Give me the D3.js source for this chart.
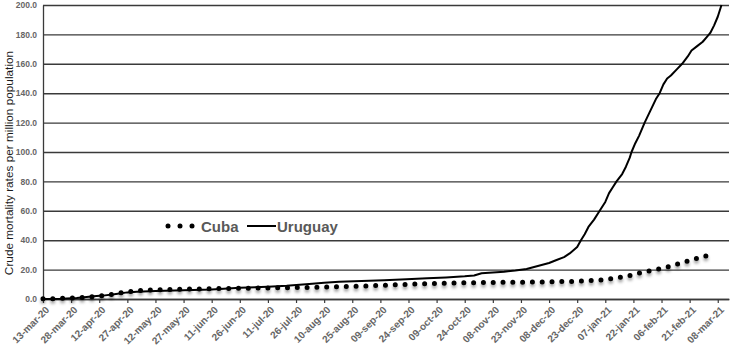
<!DOCTYPE html>
<html>
<head>
<meta charset="utf-8">
<script src="https://cdn.jsdelivr.net/npm/d3@7"></script>
<style>
  body { margin: 0; background: #fff; }
  svg { display: block; font-family: 'Liberation Sans', Arial, sans-serif; }
</style>
</head>
<body>
<script>
const width = 733
const height = 353

// days counted from 13-mar-20
const startDate = new Date(2020, 2, 13)
const tickDays = d3.range(0, 361, 15)
const yTicks = [0, 20, 40, 60, 80, 100, 120, 140, 160, 180, 200]

const cubaDays = [0, 5, 10, 15, 20, 25, 30, 35, 40, 45, 50, 55, 60, 70, 85, 100, 115, 130, 145, 160, 175, 190, 205, 220, 235, 250, 265, 280, 290, 300, 306, 312, 317, 322, 327, 332, 338, 342, 347, 352, 357]
const cubaVals = [0.1, 0.2, 0.4, 0.7, 1.0, 1.4, 2.0, 2.8, 3.9, 4.8, 5.5, 6.0, 6.3, 6.6, 6.9, 7.2, 7.5, 7.7, 7.9, 8.4, 9.0, 9.8, 10.5, 10.9, 11.2, 11.4, 11.6, 11.9, 12.3, 13.2, 14.4, 15.6, 17.3, 18.7, 20.0, 21.3, 23.6, 25.0, 27.0, 28.6, 30.8]

const uruDays = [0, 10, 18, 22, 27, 32, 38, 45, 50, 60, 75, 90, 105, 120, 130, 142, 150, 158, 170, 182, 194, 205, 215, 225, 230, 234, 240, 246, 252, 258, 264, 270, 274, 278, 281, 285, 287, 289, 291, 294, 297, 300, 302, 304, 306, 309, 311, 313, 314, 316, 318, 321, 324, 327, 329, 331, 333, 335, 338, 341, 344, 346, 349, 352, 354, 356, 358, 360, 362]
const uruVals = [0.0, 0.2, 0.6, 1.2, 1.8, 2.3, 3.2, 4.5, 5.0, 5.5, 5.9, 6.4, 7.6, 8.4, 9.0, 10.2, 11.0, 11.8, 12.3, 12.8, 13.5, 14.1, 14.7, 15.4, 16.0, 17.5, 18.0, 18.6, 19.4, 20.4, 22.5, 24.5, 26.5, 28.5, 31.0, 35.4, 40.0, 44.0, 49.0, 54.0, 60.0, 66.0, 72.0, 76.0, 80.0, 85.0, 90.0, 96.0, 100.0, 106.0, 111.0, 120.0, 128.0, 136.0, 140.0, 146.0, 150.0, 152.0, 156.0, 160.0, 165.0, 169.0, 172.0, 175.0, 178.0, 181.0, 186.0, 192.0, 200.0]

const day = n => d3.timeDay.offset(startDate, n)
const fmt = d3.timeFormat('%d-%b-%y')

const x = d3.scaleTime().domain([startDate, day(366)]).range([43, 729])
const y = d3.scaleLinear().domain([0, 200]).range([299, 5])

const svg = d3.select('body').append('svg').attr('width', width).attr('height', height)

const defs = svg.append('defs')
const shadow = defs.append('filter').attr('id', 'shadow')
  .attr('x', '-10%').attr('y', '-50%').attr('width', '120%').attr('height', '200%')
shadow.append('feDropShadow')
  .attr('dx', 0).attr('dy', 2.5).attr('stdDeviation', 1.6)
  .attr('flood-color', '#000').attr('flood-opacity', 0.4)

// gridlines + y labels
const yAxis = svg.append('g')
  .attr('transform', `translate(${x.range()[0]},0)`)
  .call(d3.axisLeft(y)
    .tickValues(yTicks)
    .tickSize(-(x.range()[1] - x.range()[0]))
    .tickSizeOuter(0)
    .tickPadding(6)
    .tickFormat(d3.format('.1f')))
yAxis.select('.domain').attr('stroke', '#3a3a3a').attr('stroke-width', 1.3)
yAxis.selectAll('.tick line').attr('stroke', '#3a3a3a').attr('stroke-width', 1.4)
yAxis.selectAll('.tick text')
  .attr('fill', '#666')
  .style('font-size', '8.5px')
  .style('font-weight', 'bold')

// x axis
const xAxis = svg.append('g')
  .attr('transform', `translate(0,${y(0)})`)
  .call(d3.axisBottom(x)
    .tickValues(tickDays.map(day))
    .tickSize(4)
    .tickSizeOuter(0)
    .tickFormat(d => fmt(d).toLowerCase()))
xAxis.select('.domain').attr('stroke', '#3a3a3a').attr('stroke-width', 1.6)
xAxis.selectAll('.tick line').attr('stroke', '#3a3a3a').attr('stroke-width', 1.2)
xAxis.selectAll('.tick text')
  .attr('x', 0)
  .attr('y', 0)
  .attr('dy', '0.35em')
  .attr('transform', 'translate(4,9) rotate(-45)')
  .style('text-anchor', 'end')
  .attr('fill', '#666')
  .style('font-size', '10px')
  .style('font-weight', 'bold')

// y title
svg.append('text')
  .attr('transform', `translate(13,${163}) rotate(-90)`)
  .attr('text-anchor', 'middle')
  .attr('fill', '#1a1a1a')
  .style('font-size', '11.8px')
  .text('Crude mortality rates per million population')

// series
const uru = uruDays.map((d, i) => [d, uruVals[i]])
const cuba = cubaDays.map((d, i) => [d, cubaVals[i]])

const line = d3.line()
  .x(d => x(day(d[0])))
  .y(d => y(d[1]))

svg.append('path')
  .datum(uru)
  .attr('d', line)
  .attr('fill', 'none')
  .attr('stroke', '#000')
  .attr('stroke-width', 2)
  .attr('stroke-linejoin', 'round')

svg.append('path')
  .datum(cuba)
  .attr('d', line)
  .attr('fill', 'none')
  .attr('stroke', '#000')
  .attr('stroke-width', 5)
  .attr('stroke-linecap', 'round')
  .attr('stroke-dasharray', '0 9.8')
  .attr('filter', 'url(#shadow)')

// legend
const legend = svg.append('g')
legend.selectAll('circle')
  .data([168, 180, 192])
  .join('circle')
  .attr('cx', d => d)
  .attr('cy', 226)
  .attr('r', 2.5)
  .attr('fill', '#000')
legend.append('text')
  .attr('x', 201).attr('y', 232)
  .attr('fill', '#595959')
  .style('font-size', '15px')
  .style('font-weight', 'bold')
  .text('Cuba')
legend.append('line')
  .attr('x1', 247).attr('x2', 276)
  .attr('y1', 226).attr('y2', 226)
  .attr('stroke', '#000')
  .attr('stroke-width', 2)
legend.append('text')
  .attr('x', 277).attr('y', 232)
  .attr('fill', '#595959')
  .style('font-size', '15px')
  .style('font-weight', 'bold')
  .text('Uruguay')
</script>
</body>
</html>
